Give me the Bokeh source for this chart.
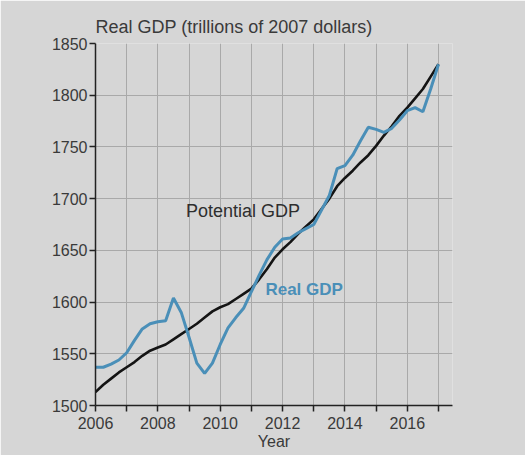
from bokeh.plotting import figure
from bokeh.models import FixedTicker, Range1d, Label
from bokeh.embed import file_html
from bokeh.resources import INLINE

quarters = [2006.00, 2006.25, 2006.50, 2006.75, 2007.00, 2007.25, 2007.50, 2007.75,
            2008.00, 2008.25, 2008.50, 2008.75, 2009.00, 2009.25, 2009.50, 2009.75,
            2010.00, 2010.25, 2010.50, 2010.75, 2011.00, 2011.25, 2011.50, 2011.75,
            2012.00, 2012.25, 2012.50, 2012.75, 2013.00, 2013.25, 2013.50, 2013.75,
            2014.00, 2014.25, 2014.50, 2014.75, 2015.00, 2015.25, 2015.50, 2015.75,
            2016.00, 2016.25, 2016.50, 2016.75, 2017.00]

real_gdp = [1537, 1537, 1540, 1544, 1551, 1563, 1574, 1579,
            1581, 1582, 1604, 1590, 1566, 1541, 1531, 1541,
            1559, 1575, 1585, 1594, 1610, 1626, 1641, 1653,
            1661, 1662, 1667, 1671, 1675, 1689, 1703, 1729,
            1732, 1742, 1756, 1769, 1767, 1764, 1768, 1776,
            1785, 1788, 1784, 1806, 1830]

potential_gdp = [1513, 1520, 1526, 1532, 1537, 1542, 1548, 1553,
                 1556, 1559, 1564, 1569, 1574, 1579, 1585, 1591,
                 1595, 1598, 1603, 1608, 1613, 1622, 1632, 1643,
                 1651, 1658, 1666, 1673, 1680, 1690, 1700, 1712,
                 1720, 1727, 1735, 1742, 1751, 1761, 1770, 1780,
                 1788, 1797, 1806, 1818, 1830]

x_ticks = [2006, 2007, 2008, 2009, 2010, 2011, 2012, 2013, 2014, 2015, 2016, 2017]
x_labels = ["2006", "", "2008", "", "2010", "", "2012", "", "2014", "", "2016", ""]
y_ticks = [1500, 1550, 1600, 1650, 1700, 1750, 1800, 1850]

title_text = "Real GDP (trillions of 2007 dollars)"
x_title = "Year"
potential_label = "Potential GDP"
real_label = "Real GDP"

BG = "#d6d6d6"
BLUE = "#4a8fb8"
FONT = "Liberation Sans"

p = figure(width=525, height=455, output_backend="svg", toolbar_location=None,
           x_range=Range1d(2006, 2017.45), y_range=Range1d(1500, 1850),
           min_border_left=95, min_border_right=73, min_border_top=43, min_border_bottom=50)

p.background_fill_color = BG
p.border_fill_color = BG
p.outline_line_color = None

p.title.text = title_text
p.title.text_font = FONT
p.title.text_font_size = "18px"
p.title.text_font_style = "normal"
p.title.text_color = "#3a3a3a"
p.title.offset = 0
p.title.standoff = 14

p.xaxis.ticker = FixedTicker(ticks=x_ticks)
p.xaxis.major_label_overrides = {t: l for t, l in zip(x_ticks, x_labels)}
p.yaxis.ticker = FixedTicker(ticks=y_ticks)
p.xaxis.axis_label = x_title

for ax in (p.xaxis[0], p.yaxis[0]):
    ax.axis_line_color = "#222222"
    ax.axis_line_width = 1.5
    ax.major_tick_line_color = "#222222"
    ax.major_tick_line_width = 1.5
    ax.major_tick_out = 6
    ax.major_tick_in = 0
    ax.minor_tick_line_color = None
    ax.major_label_text_font = FONT
    ax.major_label_text_font_size = "16px"
    ax.major_label_text_color = "#3a3a3a"
    ax.major_label_standoff = 2

p.xaxis.major_label_standoff = 5
p.xaxis.axis_label_text_font = FONT
p.xaxis.axis_label_text_font_size = "16px"
p.xaxis.axis_label_text_font_style = "normal"
p.xaxis.axis_label_text_color = "#3a3a3a"
p.xaxis.axis_label_standoff = 1

p.xgrid.grid_line_color = "#a9a9a9"
p.ygrid.grid_line_color = "#a9a9a9"
p.xgrid.grid_line_width = 1
p.ygrid.grid_line_width = 1

p.line(quarters, potential_gdp, line_color="#141414", line_width=2.6)
p.line(quarters, real_gdp, line_color=BLUE, line_width=3)

p.add_layout(Label(x=2008.9, y=1688, text=potential_label, text_font=FONT,
                   text_font_size="18px", text_color="#2e2e2e",
                   text_align="left", text_baseline="middle"))
p.add_layout(Label(x=2011.45, y=1612, text=real_label, text_font=FONT,
                   text_font_size="17px", text_font_style="bold", text_color=BLUE,
                   text_align="left", text_baseline="middle"))

open("out.html", "w").write(file_html(p, INLINE))
